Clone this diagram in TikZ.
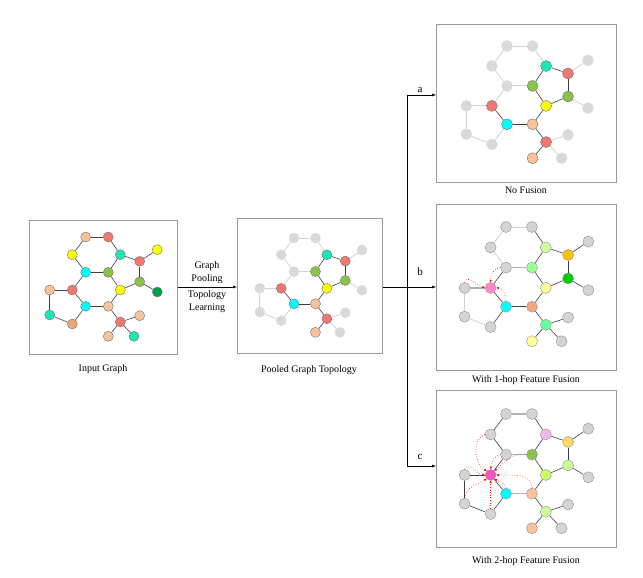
\documentclass[tikz,border=0pt]{standalone}
\usepackage{fontspec}
\setmainfont{Liberation Serif}
\usetikzlibrary{arrows.meta}
\definecolor{pch}{HTML}{F8C39A}
\definecolor{rd}{HTML}{F07870}
\definecolor{yl}{HTML}{FFFF00}
\definecolor{tl}{HTML}{1EE5B4}
\definecolor{cy}{HTML}{00FFFF}
\definecolor{gr}{HTML}{8BC34A}
\definecolor{dg}{HTML}{00A050}
\definecolor{pdk}{HTML}{E8A878}
\definecolor{lg}{HTML}{D9D9D9}
\definecolor{gn}{HTML}{D4D4D4}
\definecolor{gb}{HTML}{909090}
\definecolor{bd}{HTML}{707070}
\definecolor{lgr}{HTML}{CCFF99}
\definecolor{org}{HTML}{FFC000}
\definecolor{mgr}{HTML}{99FF99}
\definecolor{pk}{HTML}{FF8CC6}
\definecolor{lyl}{HTML}{FFFF99}
\definecolor{bgr}{HTML}{00CC00}
\definecolor{bpc}{HTML}{F4A67C}
\definecolor{mnt}{HTML}{66FF99}
\definecolor{lpk}{HTML}{F5B8F0}
\definecolor{gld}{HTML}{FFD966}
\definecolor{mg}{HTML}{FF55BB}
\definecolor{lim}{HTML}{CCFF66}
\def\coordsl{1/0/0,2/22.6/0,3/-13.4/17.7,4/34.6/17.7,5/71.6/12.7,6/54/24.3,7/0/35.3,8/22.6/35.3,9/-36/53,10/-13.4/53,11/34.6/53,12/54/44.7,13/71.6/55,14/0/69.3,15/22.6/69.3,16/-36/78,17/-13.4/87,18/34.6/85,19/54/78.7,20/22.6/99.3,21/48.3/99.3}
\newcommand\molcoords[3]{\begin{scope}[shift={#2},scale=#3]\foreach \i/\x/\y in \coordsl {\coordinate (#1\i) at (\x,\y);}\end{scope}}
\tikzset{
 nd/.style={circle,inner sep=0pt,minimum size=#1,line width=0.4pt},
 nd/.default=10pt,
 dk/.style={draw=black!75,line width=0.6pt},
 lt/.style={draw=gray!35,line width=0.8pt},
 md/.style={draw=gray!60,line width=1.2pt},
 ra/.style={red,dotted,line width=0.6pt,-{Latex[length=2.5pt,width=2.5pt]}},
 box/.style={draw=gray!80,line width=0.6pt},
 arr/.style={line width=0.5pt,-{Latex[length=4pt,width=3pt]}},
 lab/.style={font=\fontsize{10}{11}\selectfont,align=center}
}
\begin{document}
\begin{tikzpicture}[x=1pt,y=-1pt]
\useasboundingbox (0,0) rectangle (643,578);
% boxes
\node[box,minimum width=148pt,minimum height=134pt,anchor=north west,inner sep=0pt] (ib) at (29,220) {};
\node[box,minimum width=145pt,minimum height=135pt,anchor=north west,inner sep=0pt] (pb) at (237,218) {};
\node[box,minimum width=180pt,minimum height=158pt,anchor=north west,inner sep=0pt] (ab) at (436,24) {};
\node[box,minimum width=180pt,minimum height=166pt,anchor=north west,inner sep=0pt] (bb) at (436,204) {};
\node[box,minimum width=180pt,minimum height=157pt,anchor=north west,inner sep=0pt] (cb) at (436,390) {};
% captions
\node[lab] (t1) at (103,369) {Input Graph};
\node[lab] (t2) at (309,370) {Pooled Graph Topology};
\node[lab] (t3) at (526,190) {No Fusion};
\node[lab] (t4) at (526,380) {With 1-hop Feature Fusion};
\node[lab] (t5) at (526,561) {With 2-hop Feature Fusion};
\node[lab,font=\fontsize{10}{13}\selectfont] (t6) at (207,273) {Graph\\Pooling};
\node[lab,font=\fontsize{10}{13}\selectfont] (t7) at (207,302) {Topology\\Learning};
\node[lab,font=\fontsize{11}{12}\selectfont] (la) at (420,90) {a};
\node[lab,font=\fontsize{11}{12}\selectfont] (lb) at (420,272) {b};
\node[lab,font=\fontsize{11}{12}\selectfont] (lc) at (420,457) {c};
% connectors
\coordinate (j1) at (407,287);
\coordinate (ja) at (407,95);
\coordinate (jc) at (407,466);
\draw[arr] (ib.east |- 0,287) -- (pb.west |- 0,287);
\draw[line width=0.5pt] (pb.east |- j1) -- (j1);
\draw[line width=0.5pt] (ja) -- (jc);
\draw[arr] (ja) -- (ab.west |- ja);
\draw[arr] (j1) -- (bb.west |- j1);
\draw[arr] (jc) -- (cb.west |- jc);
% ---------- input graph
\molcoords{i}{(85.7,237)}{1}
\foreach \i/\c in {1/pch,2/rd,3/yl,4/tl,5/yl,6/rd,7/cy,8/gr,9/pch,10/rd,11/yl,12/gr,13/dg,14/cy,15/pch,16/tl,17/pdk,18/rd,19/pch,20/pch,21/tl}
 \node[nd,fill=\c,draw=bd] (in\i) at (i\i) {};
\foreach \a/\b in {1/2,1/3,2/4,3/7,4/8,4/6,6/5,6/12,12/13,12/11,7/8,7/10,8/11,10/9,9/16,16/17,17/14,10/14,14/15,15/11,15/18,18/19,18/20,18/21}
 \draw[dk] (in\a) -- (in\b);
% ---------- pooled and a
\molcoords{p}{(294,238)}{0.95}
\molcoords{a}{(507,46)}{1.13}
\foreach \P/\S in {p/10pt,a/11pt}{
 \foreach \i/\c/\d in {1/lg/lg,2/lg/lg,3/lg/lg,4/tl/bd,5/lg/lg,6/rd/bd,7/lg/lg,8/gr/bd,9/lg/lg,10/rd/bd,11/yl/bd,12/gr/bd,13/lg/lg,14/cy/bd,15/pch/bd,16/lg/lg,17/lg/lg,18/rd/bd,19/lg/lg,20/pch/bd,21/lg/lg}
  \node[nd=\S,fill=\c,draw=\d] (\P n\i) at (\P\i) {};
 \foreach \a/\b in {4/8,4/6,6/12,12/11,8/11,10/14,14/15,15/11,15/18,18/20}
  \draw[dk] (\P n\a) -- (\P n\b);
 \foreach \a/\b in {1/2,1/3,2/4,3/7,6/5,12/13,7/8,7/10,10/9,9/16,16/17,17/14,18/19,18/21}
  \draw[lt] (\P n\a) -- (\P n\b);
}
% ---------- b
\molcoords{b}{(506,227)}{1.15}
\foreach \i/\c in {1/gn,2/gn,3/gn,4/lgr,5/gn,6/org,7/gn,8/mgr,9/gn,10/pk,11/lyl,12/bgr,13/gn,14/cy,15/bpc,16/gn,17/gn,18/mnt,19/gn,20/lyl,21/gn}
  \node[nd=11pt,draw=gb,fill=\c] (bn\i) at (b\i) {};
\foreach \a/\b in {2/4,4/8,4/6,6/5,6/12,12/13,12/11,7/10,8/11,17/14,10/14,14/15,15/11,15/18,18/19,18/20,18/21}
 \draw[dk] (bn\a) -- (bn\b);
\foreach \a/\b in {1/2,1/3,3/7,9/16,16/17}
 \draw[lt] (bn\a) -- (bn\b);
\foreach \a/\b in {7/8,10/9}
 \draw[md] (bn\a) -- (bn\b);
\draw[ra] (bn9.north) to[out=80,in=160] (bn10.west);
\draw[ra] (bn7.west) to[out=180,in=90] (bn10.north);
\draw[ra] (bn14.north) to[out=90,in=0] (bn10.east);
% ---------- c
\molcoords{c}{(506,414)}{1.15}
\foreach \i/\c in {1/gn,2/gn,3/gn,4/lpk,5/gn,6/gld,7/gn,8/gr,9/gn,10/mg,11/lim,12/lgr,13/gn,14/cy,15/pch,16/gn,17/gn,18/lgr,19/gn,20/pch,21/gn}
 \node[nd=11pt,draw=gb,fill=\c] (cn\i) at (c\i) {};
\foreach \a/\b in {1/3,2/4,3/7,4/8,4/6,6/5,6/12,12/13,12/11,7/10,8/11,10/9,9/16,16/17,17/14,10/14,15/11,15/18,18/19,18/20,18/21}
 \draw[dk] (cn\a) -- (cn\b);
\foreach \a/\b in {1/2,7/8,14/15}
 \draw[md] (cn\a) -- (cn\b);
\draw[ra] (cn3.west) to[out=200,in=150] (cn10.north west);
\draw[ra] (cn7.west) to[out=190,in=80] (cn10.north);
\draw[ra] (cn8.west) to[out=170,in=40] (cn10.north east);
\draw[ra] (cn9.north) to[out=80,in=170] (cn10.west);
\draw[ra] (cn16.north) to[out=80,in=210] (cn10.south west);
\draw[ra] (cn17.north) -- (cn10.south);
\draw[ra] (cn14.north) to[out=100,in=-30] (cn10.south east);
\draw[ra] (cn15.north) to[out=90,in=0] (cn10.east);
\end{tikzpicture}
\end{document}
